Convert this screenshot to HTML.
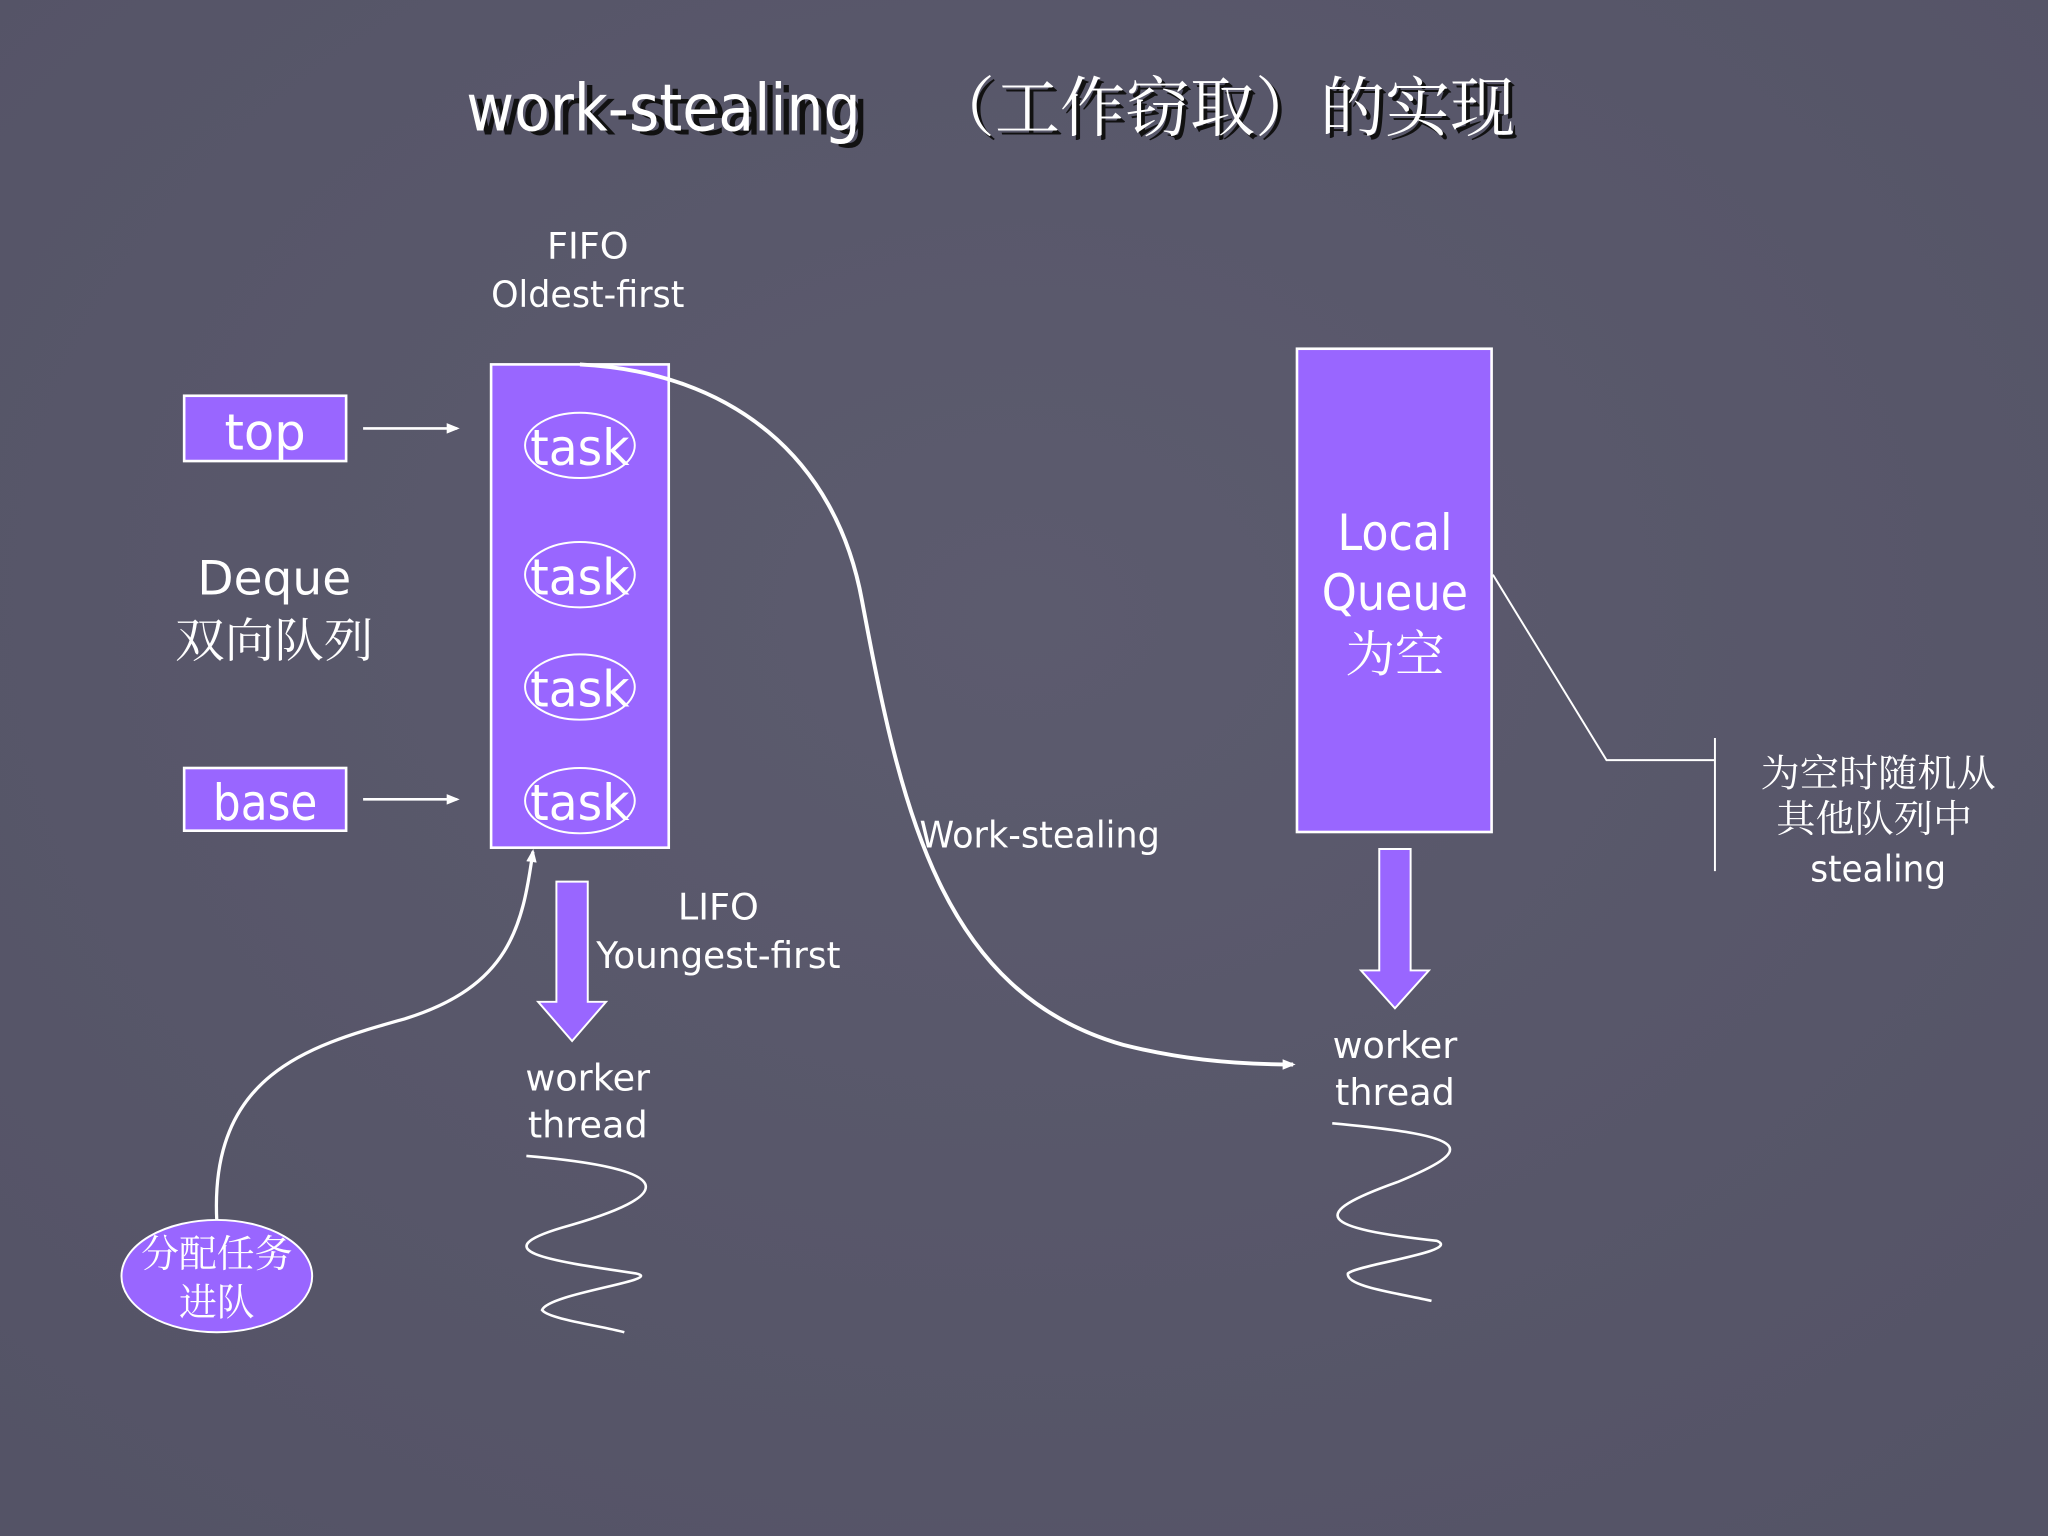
<!DOCTYPE html>
<html><head><meta charset="utf-8"><style>
html,body{margin:0;padding:0;background:#58586a;}
svg{display:block;}
text{font-family:"DejaVu Sans","Liberation Sans","Noto Sans CJK SC",sans-serif;fill:#fff;}
.cjk{font-family:"Noto Serif CJK SC","Noto Sans CJK SC",serif;}
</style></head><body>
<svg width="2048" height="1536" viewBox="0 0 1568 1176" xmlns="http://www.w3.org/2000/svg">
<defs>
<marker id="ah" markerWidth="10" markerHeight="10" refX="8" refY="5" orient="auto" markerUnits="userSpaceOnUse"><path d="M0,1 L10,5 L0,9 z" fill="#fff"/></marker>
<radialGradient id="bg" cx="50%" cy="40%" r="75%"><stop offset="0" stop-color="#5c5b6e"/><stop offset="1" stop-color="#545366"/></radialGradient>
</defs>
<rect width="1568" height="1176" fill="url(#bg)"/>
<!-- title -->
<g>
<text x="360" y="100" font-size="50" fill="#111" style="fill:#111" textLength="302" lengthAdjust="spacingAndGlyphs" transform="translate(3,3)">work-stealing</text>
<text x="357" y="100" font-size="50" textLength="302" lengthAdjust="spacingAndGlyphs">work-stealing</text>
<text x="712" y="100" font-size="50" class="cjk" style="fill:#111" textLength="448" lengthAdjust="spacingAndGlyphs" transform="translate(3,3)">（工作窃取）的实现</text>
<text x="712" y="100" font-size="50" class="cjk" textLength="448" lengthAdjust="spacingAndGlyphs">（工作窃取）的实现</text>
</g>
<text x="450" y="198" font-size="28" text-anchor="middle">FIFO</text>
<text x="450" y="235" font-size="28" text-anchor="middle" textLength="148" lengthAdjust="spacingAndGlyphs">Oldest-first</text>
<!-- top/base boxes -->
<rect x="141" y="303" width="124" height="50" fill="#9966ff" stroke="#fff" stroke-width="2"/>
<text x="203" y="344" font-size="38" text-anchor="middle">top</text>
<rect x="141" y="588" width="124" height="48" fill="#9966ff" stroke="#fff" stroke-width="2"/>
<text x="203" y="628" font-size="38" text-anchor="middle" textLength="80" lengthAdjust="spacingAndGlyphs">base</text>
<line x1="278" y1="328" x2="350" y2="328" stroke="#fff" stroke-width="2" marker-end="url(#ah)"/>
<line x1="278" y1="612" x2="350" y2="612" stroke="#fff" stroke-width="2" marker-end="url(#ah)"/>
<text x="210" y="455" font-size="36" text-anchor="middle">Deque</text>
<text x="210" y="503" font-size="36" text-anchor="middle" class="cjk" textLength="152" lengthAdjust="spacingAndGlyphs">双向队列</text>
<!-- deque -->
<rect x="376" y="279" width="136" height="370" fill="#9966ff" stroke="#fff" stroke-width="2"/>
<g font-size="38">
<ellipse cx="444" cy="341" rx="42" ry="25" fill="none" stroke="#fff" stroke-width="1.5"/><text x="444" y="356" text-anchor="middle" textLength="76" lengthAdjust="spacingAndGlyphs">task</text>
<ellipse cx="444" cy="440" rx="42" ry="25" fill="none" stroke="#fff" stroke-width="1.5"/><text x="444" y="455" text-anchor="middle" textLength="76" lengthAdjust="spacingAndGlyphs">task</text>
<ellipse cx="444" cy="526" rx="42" ry="25" fill="none" stroke="#fff" stroke-width="1.5"/><text x="444" y="541" text-anchor="middle" textLength="76" lengthAdjust="spacingAndGlyphs">task</text>
<ellipse cx="444" cy="613" rx="42" ry="25" fill="none" stroke="#fff" stroke-width="1.5"/><text x="444" y="628" text-anchor="middle" textLength="76" lengthAdjust="spacingAndGlyphs">task</text>
</g>
<!-- stealing curve -->
<path d="M444,279 C560,285 640,350 660,460 C690,620 720,760 860,800 C900,810 940,815 990,815" fill="none" stroke="#fff" stroke-width="3" marker-end="url(#ah)"/>
<text x="704" y="649" font-size="28" textLength="184" lengthAdjust="spacingAndGlyphs">Work-stealing</text>
<!-- down arrow left -->
<path d="M426,675 L450,675 L450,767 L464,767 L438,797 L412,767 L426,767 Z" fill="#9966ff" stroke="#fff" stroke-width="1.5"/>
<text x="550" y="704" font-size="28" text-anchor="middle">LIFO</text>
<text x="550" y="741" font-size="28" text-anchor="middle" textLength="187" lengthAdjust="spacingAndGlyphs">Youngest-first</text>
<text x="450" y="835" font-size="28" text-anchor="middle">worker</text>
<text x="450" y="871" font-size="28" text-anchor="middle">thread</text>
<path d="M403,885 C520,895 520,915 430,940 C370,958 420,965 487,975 C510,980 420,990 415,1003 C420,1010 460,1015 478,1020" fill="none" stroke="#fff" stroke-width="2"/>
<!-- enqueue curve -->
<path d="M166,935 C160,820 240,800 310,780 C390,755 400,710 408,652" fill="none" stroke="#fff" stroke-width="2.5" marker-end="url(#ah)"/>
<ellipse cx="166" cy="977" rx="73" ry="43" fill="#9966ff" stroke="#fff" stroke-width="1.5"/>
<text x="166" y="970" font-size="29" text-anchor="middle" class="cjk">分配任务</text>
<text x="166" y="1007" font-size="29" text-anchor="middle" class="cjk">进队</text>
<!-- local queue -->
<rect x="993" y="267" width="149" height="370" fill="#9966ff" stroke="#fff" stroke-width="2"/>
<text x="1068" y="421" font-size="38" text-anchor="middle" textLength="88" lengthAdjust="spacingAndGlyphs">Local</text>
<text x="1068" y="467" font-size="38" text-anchor="middle" textLength="112" lengthAdjust="spacingAndGlyphs">Queue</text>
<text x="1068" y="514" font-size="38" text-anchor="middle" class="cjk">为空</text>
<path d="M1056,650 L1080,650 L1080,743 L1094,743 L1068,772 L1042,743 L1056,743 Z" fill="#9966ff" stroke="#fff" stroke-width="1.5"/>
<text x="1068" y="810" font-size="28" text-anchor="middle">worker</text>
<text x="1068" y="846" font-size="28" text-anchor="middle">thread</text>
<path d="M1020,860 C1130,870 1130,880 1070,905 C1000,930 1010,940 1100,950 C1120,958 1040,968 1032,975 C1030,985 1070,990 1096,996" fill="none" stroke="#fff" stroke-width="2"/>
<!-- callout -->
<polyline points="1143,440 1230,582 1313,582" fill="none" stroke="#fff" stroke-width="1.5"/>
<line x1="1313" y1="565" x2="1313" y2="667" stroke="#fff" stroke-width="1.5"/>
<text x="1438" y="602" font-size="29" text-anchor="middle" class="cjk" textLength="180" lengthAdjust="spacingAndGlyphs">为空时随机从</text>
<text x="1435" y="637" font-size="29" text-anchor="middle" class="cjk" textLength="150" lengthAdjust="spacingAndGlyphs">其他队列中</text>
<text x="1438" y="675" font-size="28" text-anchor="middle" textLength="104" lengthAdjust="spacingAndGlyphs">stealing</text>
</svg>
</body></html>
